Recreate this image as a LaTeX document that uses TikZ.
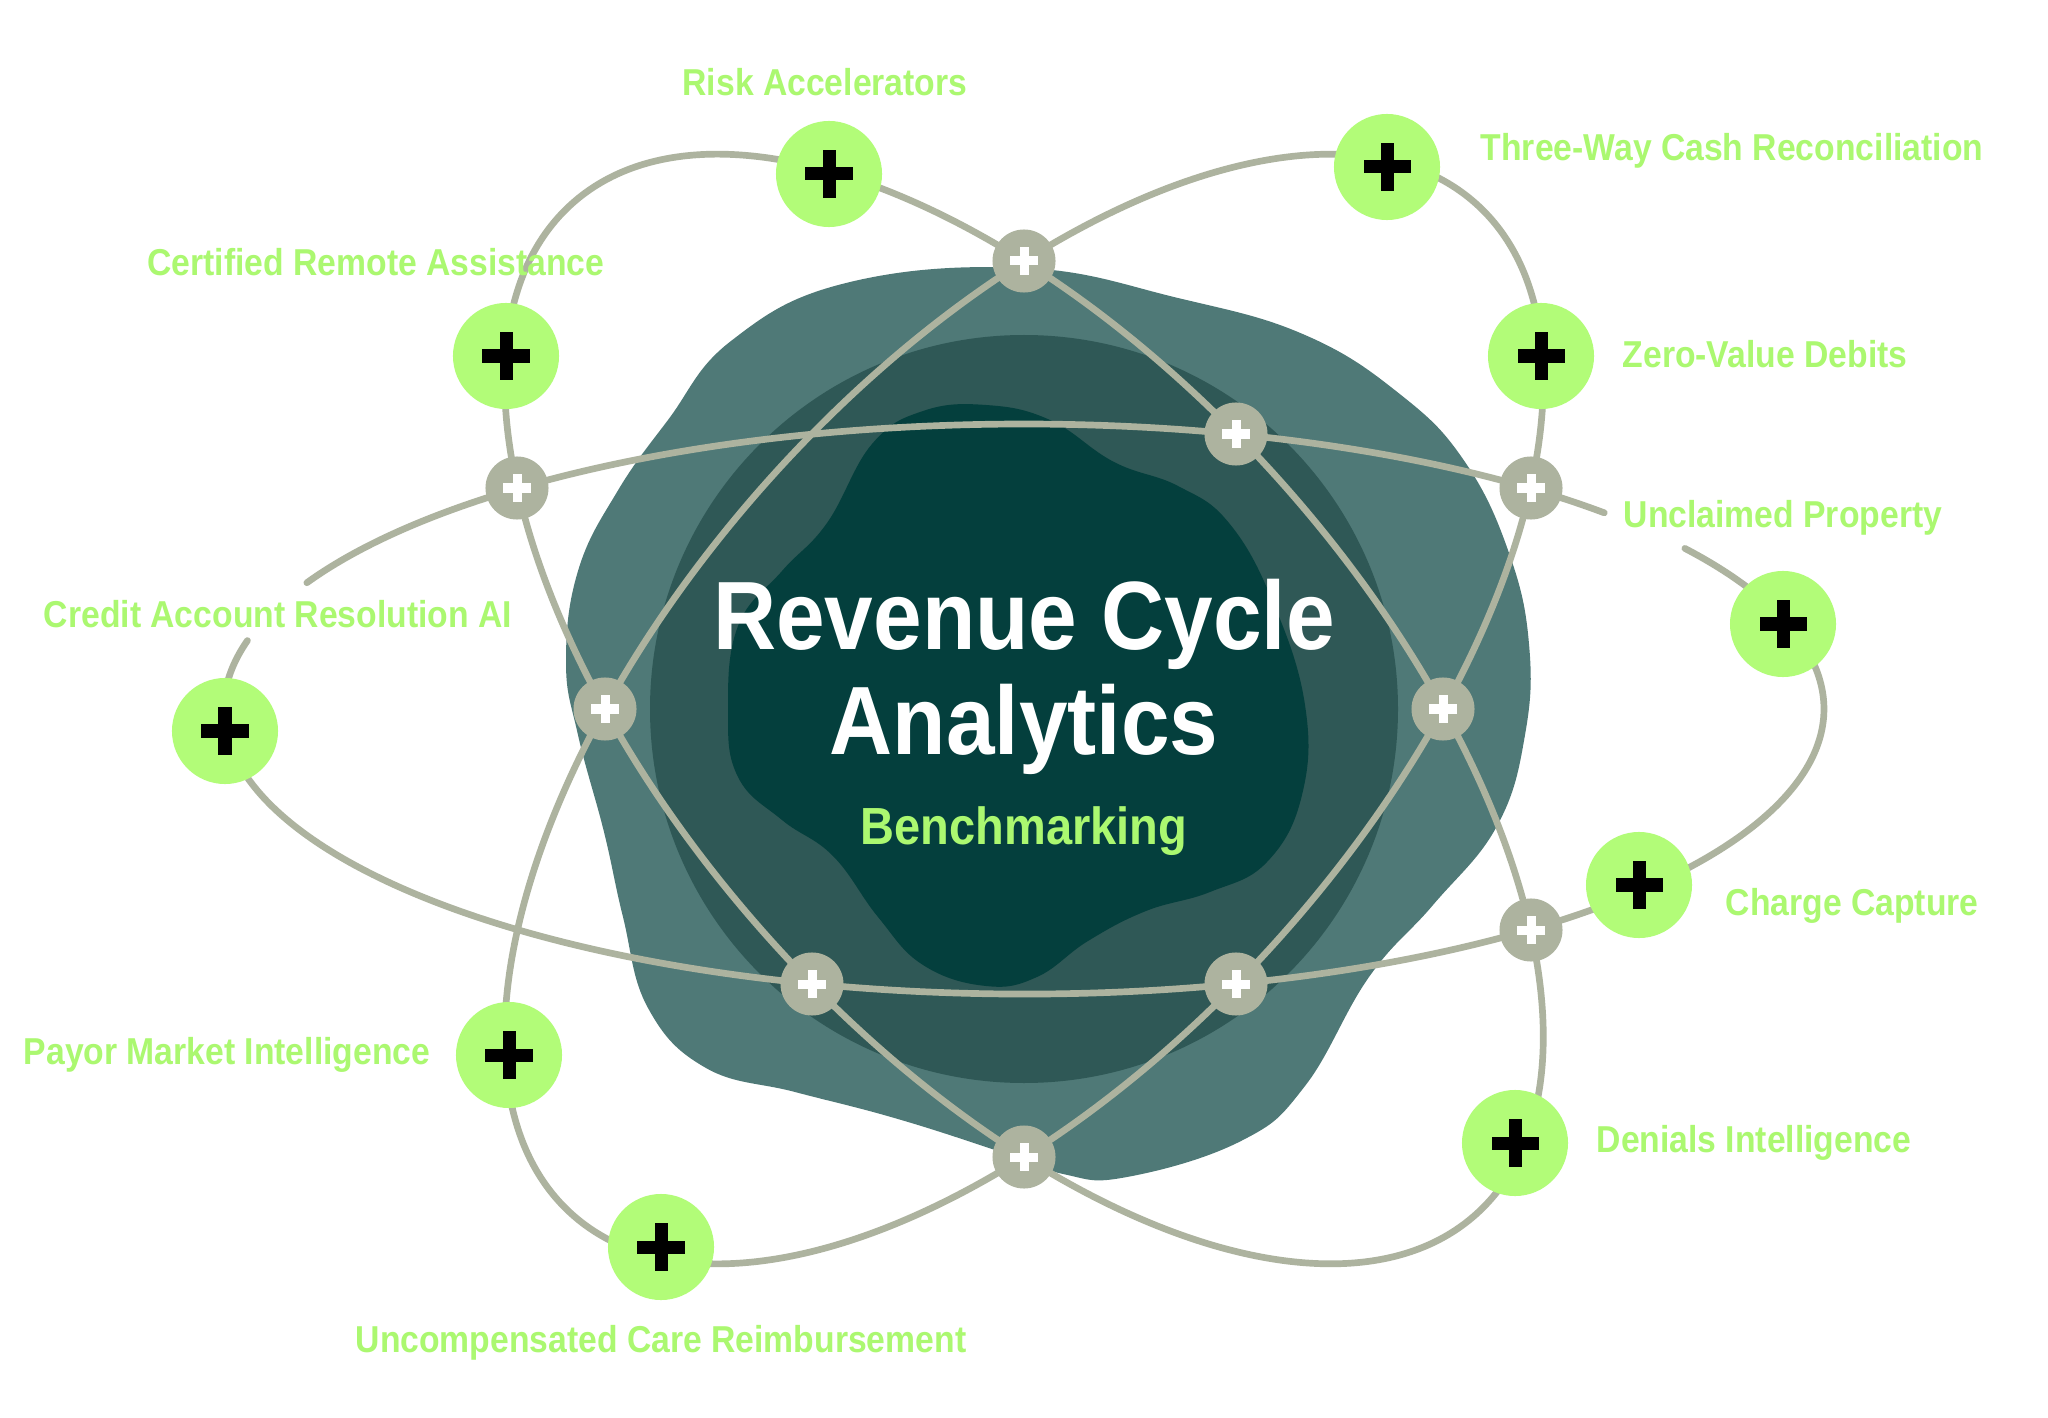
\documentclass[tikz,border=0pt]{standalone}
\usepackage{fontspec}
\setmainfont[FakeStretch=0.9]{Liberation Sans}
\usetikzlibrary{positioning}

\definecolor{blobout}{HTML}{4F7977}
\definecolor{blobmid}{HTML}{2F5856}
\definecolor{blobin}{HTML}{043F3D}
\definecolor{orbit}{HTML}{ADB39F}
\definecolor{lime}{HTML}{B2FC78}
\definecolor{limetext}{HTML}{ABF870}

\tikzset{
  orbitline/.style={draw=orbit, line width=1.9pt, line cap=round},
  bigplus/.style={circle, fill=lime, minimum size=1.06cm, inner sep=0pt,
    path picture={
      \fill[black] ([xshift=-0.235cm,yshift=-0.065cm]path picture bounding box.center)
        rectangle ([xshift=0.235cm,yshift=0.065cm]path picture bounding box.center);
      \fill[black] ([xshift=-0.065cm,yshift=-0.235cm]path picture bounding box.center)
        rectangle ([xshift=0.065cm,yshift=0.235cm]path picture bounding box.center);}},
  smallplus/.style={circle, fill=orbit, minimum size=0.63cm, inner sep=0pt,
    path picture={
      \fill[white] ([xshift=-0.14cm,yshift=-0.045cm]path picture bounding box.center)
        rectangle ([xshift=0.14cm,yshift=0.045cm]path picture bounding box.center);
      \fill[white] ([xshift=-0.045cm,yshift=-0.14cm]path picture bounding box.center)
        rectangle ([xshift=0.045cm,yshift=0.14cm]path picture bounding box.center);}},
  lbl/.style={text=limetext, font=\bfseries\fontsize{10.65}{12}\selectfont, inner sep=0pt}
}

\begin{document}
\begin{tikzpicture}[x=0.01cm, y=0.01cm]
  \fill[white] (0,0) rectangle (2048,1417);
  \useasboundingbox (0,0) rectangle (2048,1417);
  \coordinate (c) at (1024,708);

  % the three blobs
  \fill[blobout] plot[smooth cycle, tension=0.7] coordinates {
    (1025,1149) (1178,1119) (1305,1082) (1401,1022) (1465,955) (1509,864)
    (1529,773) (1525,682) (1497,591) (1433,512) (1369,440) (1305,331)
    (1241,276) (1127,240) (1063,243) (986,270) (891,300) (795,325)
    (706,349) (648,409) (623,500) (604,585) (578,682) (566,755)
    (578,846) (617,925) (668,997) (731,1076) (846,1134)};
  \fill[blobmid] (c) circle[radius=374];
  \fill[blobin] plot[smooth cycle, tension=0.7] coordinates {
    (986,1012) (1050,997) (1114,955) (1178,931) (1229,894) (1273,815)
    (1305,712) (1302,622) (1267,555) (1210,525) (1146,506) (1088,476)
    (1037,440) (986,431) (923,452) (878,500) (833,561) (782,597)
    (738,640) (728,706) (738,791) (782,846) (827,894) (872,973) (923,1006)};

  % orbits
  \draw[orbitline, rotate around={-48.2:(c)}] (c) ellipse[x radius=678, y radius=343];
  \draw[orbitline, rotate around={48.2:(c)}] (c) ellipse[x radius=678, y radius=343];
  \draw[orbitline] (c) ++(43.5:800 and 285)
    arc[start angle=43.5, end angle=153.7, x radius=800, y radius=285];
  \draw[orbitline] (c) ++(166.1:800 and 285)
    arc[start angle=166.1, end angle=394.3, x radius=800, y radius=285];

  % crossings
  \node[smallplus] (top) at (1024,1156) {};
  \node[smallplus] (bottom) at (1024,260) {};
  \node[smallplus] (left) at (605,708) {};
  \node[smallplus] (right) at (1443,708) {};
  \node[smallplus] (upin) at (1236,983) {};
  \node[smallplus] (upleft) at (517,929) {};
  \node[smallplus] (lowin) at (812,433) {};
  \node[smallplus] (lowright) at (1531,487) {};
  \node[smallplus] (upright) at (1531,929) {};
  \node[smallplus] (lowin2) at (1236,433) {};

  % topics
  \node[bigplus] (risk) at (829,1243) {};
  \node[bigplus] (cash) at (1387,1250) {};
  \node[bigplus] (remote) at (506,1061) {};
  \node[bigplus] (debits) at (1541,1061) {};
  \node[bigplus] (credit) at (225,686) {};
  \node[bigplus] (property) at (1783,793) {};
  \node[bigplus] (charge) at (1639,532) {};
  \node[bigplus] (payor) at (509,362) {};
  \node[bigplus] (uncomp) at (661,170) {};
  \node[bigplus] (denials) at (1515,274) {};

  \node[lbl] at (825,1335) {Risk Accelerators};
  \node[lbl, anchor=west] at (1480,1266) {Three-Way Cash Reconciliation};
  \node[lbl] at (376,1155) {Certified Remote Assistance};
  \node[lbl, anchor=west] at (1622,1063) {Zero-Value Debits};
  \node[lbl] at (278,803) {Credit Account Resolution AI};
  \node[lbl, anchor=west] at (1623,899) {Unclaimed Property};
  \node[lbl, anchor=west] at (1725,511) {Charge Capture};
  \node[lbl, anchor=east] at (431,362) {Payor Market Intelligence};
  \node[lbl] at (661,74) {Uncompensated Care Reimbursement};
  \node[lbl, anchor=west] at (1596,274) {Denials Intelligence};

  \node[text=white, align=center, font=\bfseries\fontsize{27.6}{30}\selectfont] (title) at (1024,740) {Revenue Cycle\\Analytics};
  \node[text=limetext, font=\bfseries\fontsize{14.85}{16}\selectfont] (bench) at (1024,586) {Benchmarking};
\end{tikzpicture}
\end{document}
